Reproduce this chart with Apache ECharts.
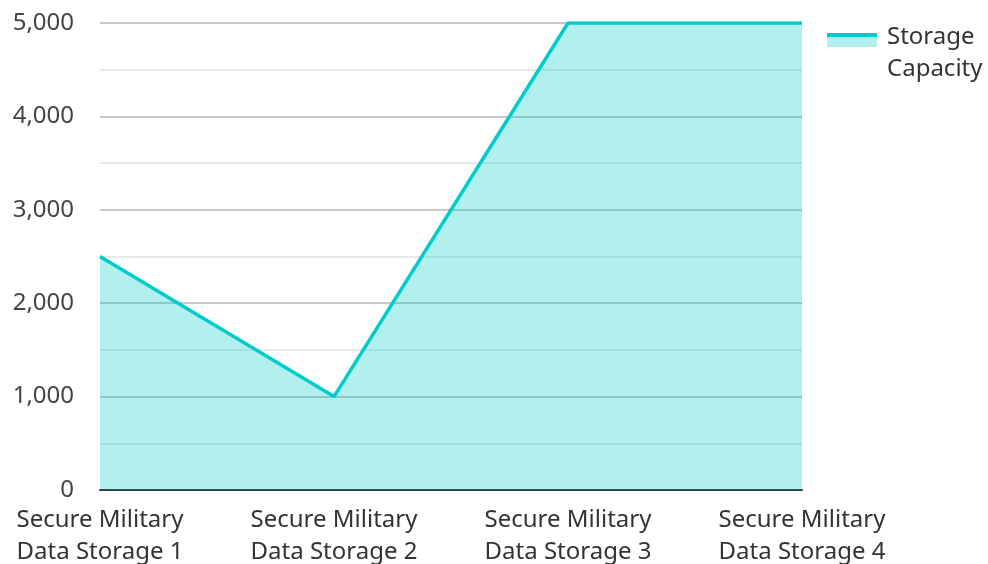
<!DOCTYPE html>
<html><head><meta charset="utf-8">
<script src="https://cdn.jsdelivr.net/npm/echarts@6/dist/echarts.min.js"></script>
<style>html,body{margin:0;padding:0;background:#fff}#c{width:988px;height:564px}</style>
</head><body><div id="c"></div>
<script>
const categories = ['Secure Military\nData Storage 1','Secure Military\nData Storage 2','Secure Military\nData Storage 3','Secure Military\nData Storage 4'];
const storageCapacity = [2500, 1000, 5000, 5000];
const seriesName = 'Storage\nCapacity';

const chart = echarts.init(document.getElementById('c'));
chart.setOption({
  animation: false,
  textStyle: {fontFamily: 'Noto Sans'},
  grid: {left: 100, right: 186, top: 23, bottom: 74, outerBoundsMode: 'none', containLabel: false},
  legend: {
    left: 827, top: 16, orient: 'vertical',
    itemWidth: 50, itemHeight: 14,
    icon: 'rect',
    itemStyle: {color: 'rgba(0,0,0,0)'},
    textStyle: {fontSize: 24, color: '#333', lineHeight: 32, fontFamily: 'Noto Sans'},
    data: [seriesName]
  },
  graphic: [
    {type: 'rect', left: 827, top: 37, shape: {width: 50, height: 10}, style: {fill: '#b2eeee'}, silent: true},
    {type: 'rect', left: 827, top: 33, shape: {width: 50, height: 4}, style: {fill: '#00cccc'}, silent: true}
  ],
  xAxis: {
    type: 'category', data: categories, boundaryGap: false,
    axisLine: {lineStyle: {color: '#333', width: 2}},
    axisTick: {show: false},
    axisLabel: {fontSize: 24, color: '#333', lineHeight: 32, margin: 14, fontFamily: 'Noto Sans'}
  },
  yAxis: {
    type: 'value', min: 0, max: 5000, interval: 1000,
    axisLine: {show: false}, axisTick: {show: false},
    axisLabel: {fontSize: 24, color: '#444', margin: 26, fontFamily: 'Noto Sans',
      formatter: v => v.toLocaleString('en-US')},
    splitLine: {lineStyle: {color: '#c8c8c8', width: 2}},
    minorTick: {show: false, splitNumber: 2},
    minorSplitLine: {show: true, lineStyle: {color: '#e8e8e8', width: 2}}
  },
  series: [{
    name: seriesName, type: 'line', data: storageCapacity,
    symbol: 'none',
    lineStyle: {color: '#00cccc', width: 3.5},
    itemStyle: {color: '#00cccc'},
    areaStyle: {color: '#00cccc', opacity: 0.3}
  }]
});
</script></body></html>
